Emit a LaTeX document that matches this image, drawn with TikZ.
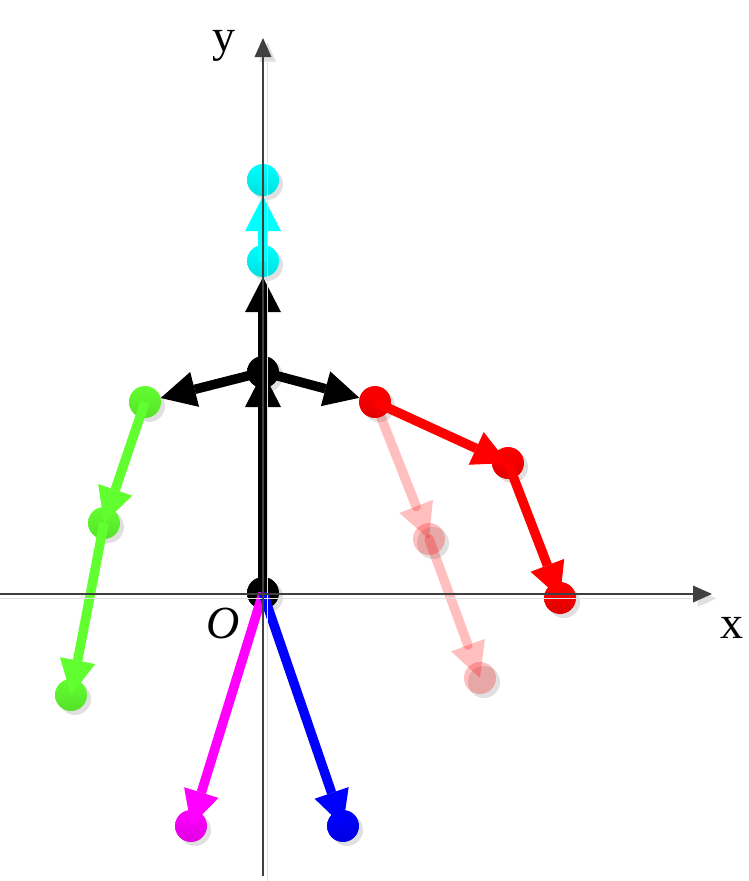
\documentclass[tikz,border=0pt]{standalone}
\usepackage{fontspec}
\setmainfont{Liberation Serif}
\usetikzlibrary{arrows.meta,shadows}
\definecolor{lgreen}{RGB}{98,255,48}
\definecolor{jcyan}{RGB}{0,255,255}
\definecolor{jmagenta}{RGB}{255,0,255}
\definecolor{jblue}{RGB}{0,0,255}
\definecolor{jred}{RGB}{255,0,0}
\definecolor{axisc}{RGB}{64,64,64}
\definecolor{shadowc}{RGB}{224,224,224}
\begin{document}
\begin{tikzpicture}[x=1pt,y=-1pt,
  joint/.style={circle, inner sep=0pt, minimum size=32pt, draw=none,
    drop shadow={shadow xshift=4pt, shadow yshift=-4pt, fill=shadowc, opacity=1}},
  sjoint/.style={joint, top color=#1, bottom color=#1!88!black},
  fjoint/.style={joint, fill=jred, fill opacity=0.25},
  limb/.style={line width=9.5pt, -{Triangle[length=35pt,width=36pt,line width=0pt]}},
  axisline/.style={draw=axisc, line width=1.2pt, -{Triangle[length=19pt,width=17pt,line width=0pt]}},
  axisshadow/.style={draw=shadowc, line width=1.2pt, -{Triangle[length=19pt,width=17pt,line width=0pt]}},
  lab/.style={font=\fontsize{46}{50}\selectfont, inner sep=0pt, anchor=base}]
\useasboundingbox (0,0) rectangle (748,881);
% joints
\node[sjoint=black] (o) at (263,593) {};
\node[sjoint=black] (neck) at (263,372) {};
\node[sjoint=jcyan] (h1) at (263,261) {};
\node[sjoint=jcyan] (h2) at (263,180) {};
\node[sjoint=lgreen] (gs) at (145,402) {};
\node[sjoint=lgreen] (ge) at (104,523) {};
\node[sjoint=lgreen] (gh) at (71,695) {};
\node[sjoint=jred] (rs) at (375,402) {};
\node[sjoint=jred] (re) at (508,463) {};
\node[sjoint=jred] (rh) at (560,598) {};
\node[fjoint] (fe) at (429,539) {};
\node[fjoint] (fh) at (480,678) {};
\node[sjoint=jmagenta] (mf) at (191,826) {};
\node[sjoint=jblue] (bf) at (343,826) {};
% limbs
\draw[limb, black] (o.center) -- (neck.center);
\draw[limb, black] (neck.center) -- (h1);
\draw[limb, jcyan] (h1.center) -- (h2);
\draw[limb, black] (neck.center) -- (gs);
\draw[limb, black] (neck.center) -- (rs);
\draw[limb, lgreen] (gs.center) -- (ge.center);
\draw[limb, lgreen] (ge.center) -- (gh.center);
\draw[limb, jred] (rs.center) -- (re.center);
\draw[limb, jred] (re.center) -- (rh.center);
\draw[limb, jred, opacity=0.25, line cap=round] (rs.center) -- (fe.center);
\draw[limb, jred, opacity=0.25, line cap=round] (fe.center) -- (fh.center);
\draw[limb, jmagenta] (o.center) -- (mf.center);
\draw[limb, jblue] (o.center) -- (bf.center);
% axes
\coordinate (xs) at (0,594);
\coordinate (xe) at (712,594);
\coordinate (ys) at (263,876);
\coordinate (ye) at (263,38);
\coordinate (xs2) at (0,598.5);
\coordinate (xe2) at (716.5,598.5);
\coordinate (ys2) at (267.5,881);
\coordinate (ye2) at (267.5,42.5);
\draw[axisshadow] (xs2) -- (xe2);
\draw[axisshadow] (ys2) -- (ye2);
\draw[axisline] (xs) -- (xe);
\draw[axisline] (ys) -- (ye);
% labels
\node[lab] (ylab) at (223.5,51) {y};
\node[lab] (xlab) at (732,638) {x};
\node[lab] (olab) at (223,638) {\textit{O}};
\end{tikzpicture}
\end{document}
